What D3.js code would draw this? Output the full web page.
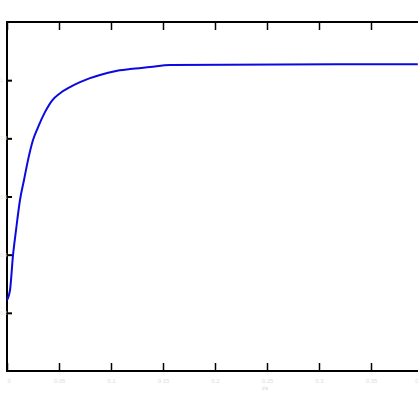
<!DOCTYPE html><html><head><script src="https://cdn.jsdelivr.net/npm/d3@7"></script>
<style>body{margin:0;background:#fff}</style></head><body><svg id="c" width="418" height="418"></svg>
<script>
const xValues=[0,.0029,.0058,.0087,.0125,.0163,.0202,.025,.0298,.0365,.0433,.051,.0606,.0702,.0798,.0894,.1038,.1183,.1375,.1567,.395];
const yValues=[.244,.278,.399,.485,.588,.656,.725,.794,.838,.89,.93,.955,.976,.993,1.007,1.018,1.031,1.038,1.045,1.052,1.055];
const xTicks=[0,.05,.1,.15,.2,.25,.3,.35,.4];
const yTicks=[.2,.4,.6,.8,1.0];
const svg=d3.select("#c");
const x=d3.scaleLinear().domain([0,.4]).range([7,423]);
const y=d3.scaleLinear().domain([0,1.2]).range([371,22]);
svg.append("rect").attr("x",7).attr("y",22).attr("width",420).attr("height",349).attr("fill","none").attr("stroke","#000").attr("stroke-width",2);
const xa=svg.append("g").attr("transform","translate(0,371)").call(d3.axisBottom(x).tickValues(xTicks).tickSize(-8).tickFormat(d3.format("~g")));
xa.select(".domain").remove();
xa.selectAll("line").attr("stroke-width",1.5);
xa.selectAll("text").attr("fill","#ddd").attr("font-size",6).attr("dy","1.5em");
xa.selectAll(".tick").filter(d=>d===0||d===.4).select("text").attr("text-anchor",d=>d===0?"start":"end");
const xt=svg.append("g").attr("transform","translate(0,22)").call(d3.axisTop(x).tickValues(xTicks).tickSize(-8).tickFormat(""));
xt.select(".domain").remove();xt.selectAll("line").attr("stroke-width",1.5);
const ya=svg.append("g").attr("transform","translate(7,0)").call(d3.axisLeft(y).tickValues(yTicks).tickSize(-5).tickFormat(d3.format("~g")));
ya.select(".domain").remove();ya.selectAll("line").attr("stroke-width",2);
ya.selectAll("text").attr("fill","#e2e2e2").attr("font-size",5).attr("text-anchor","start").attr("x",-7);
svg.append("text").attr("x",265).attr("y",390).attr("text-anchor","middle").attr("font-size",6).attr("fill","#ccc").text("t/s");
svg.append("path").datum(xValues.map((v,i)=>[v,yValues[i]]))
 .attr("d",d3.line().x(d=>x(d[0])).y(d=>y(d[1])).curve(d3.curveMonotoneX))
 .attr("fill","none").attr("stroke","#0a0ae0").attr("stroke-width",2);
</script></body></html>
